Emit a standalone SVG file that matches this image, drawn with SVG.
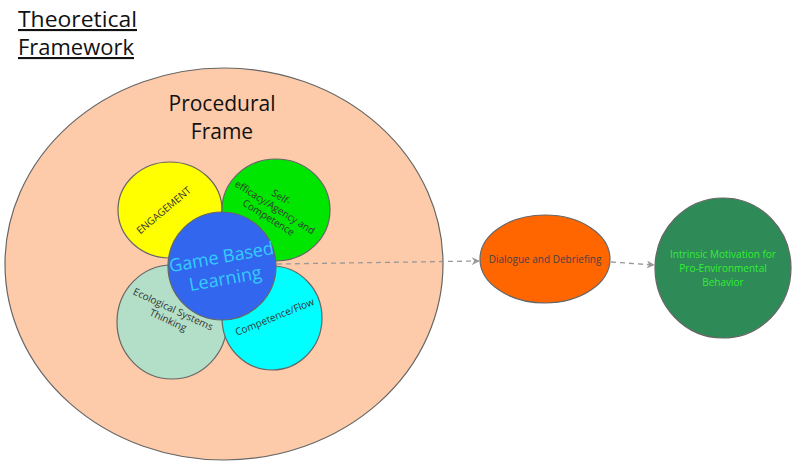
<svg xmlns="http://www.w3.org/2000/svg" width="800" height="469" viewBox="0 0 800 469">
<defs>
<style>
text{font-family:"Open Sans","Liberation Sans",sans-serif;}
.node{stroke:#666;stroke-width:1.2;}
.lbl{font-size:10px;fill:#333;text-anchor:middle;}
.conn{stroke:#999;stroke-width:1.3;stroke-dasharray:5,4;fill:none;}
</style>
<marker id="arr" viewBox="0 0 10 10" refX="9" refY="5" markerWidth="8" markerHeight="8" orient="auto" markerUnits="userSpaceOnUse">
<path d="M0,0 L10,5 L0,10 L3,5 z" fill="#999"/>
</marker>
</defs>
<rect width="800" height="469" fill="#fff"/>
<g id="title">
<text x="18" y="27" font-size="21" fill="#111" textLength="119" lengthAdjust="spacingAndGlyphs" text-decoration="underline">Theoretical</text>
<text x="18" y="55" font-size="21" fill="#111" textLength="116" lengthAdjust="spacingAndGlyphs" text-decoration="underline">Framework</text>
</g>
<g id="procedural-frame">
<ellipse cx="224" cy="264" rx="219" ry="196" fill="#fdcba9" class="node"/>
<text x="222" y="111" font-size="21" fill="#111" text-anchor="middle">Procedural</text>
<text x="222" y="139" font-size="21" fill="#111" text-anchor="middle">Frame</text>
</g>
<g id="engagement">
<ellipse cx="170" cy="210" rx="52" ry="48" fill="#ffff00" class="node"/>
<text class="lbl" transform="translate(166,213) rotate(-40)">ENGAGEMENT</text>
</g>
<g id="self-efficacy">
<ellipse cx="276" cy="210" rx="54" ry="51" fill="#00e600" class="node"/>
<text class="lbl" transform="translate(272,212) rotate(32)"><tspan x="0" y="-14">Self-</tspan><tspan x="0" y="-2">efficacy/Agency and</tspan><tspan x="0" y="10">Competence</tspan></text>
</g>
<g id="ecological">
<ellipse cx="172" cy="322" rx="55" ry="57" fill="#b3dfc8" class="node"/>
<text class="lbl" transform="translate(170,316) rotate(25)"><tspan x="0" y="-4">Ecological Systems</tspan><tspan x="0" y="8">Thinking</tspan></text>
</g>
<g id="competence-flow">
<ellipse cx="272" cy="318" rx="50" ry="52" fill="#00ffff" class="node"/>
<text class="lbl" transform="translate(276,320) rotate(-22)">Competence/Flow</text>
</g>
<g id="game-based-learning">
<circle cx="222" cy="266" r="54" fill="#3366ee" class="node"/>
<text transform="translate(223,266) rotate(-10)" font-size="18" fill="#33ccff" text-anchor="middle"><tspan x="0" y="-3">Game Based</tspan><tspan x="0" y="19">Learning</tspan></text>
</g>
<g id="connectors">
<path class="conn" d="M277,264 L479,261" marker-end="url(#arr)"/>
<path class="conn" d="M611,262 L654,265" marker-end="url(#arr)"/>
</g>
<g id="dialogue">
<ellipse cx="545" cy="259" rx="65" ry="44" fill="#ff6600" class="node"/>
<text x="545" y="263" font-size="10" fill="#444" text-anchor="middle">Dialogue and Debriefing</text>
</g>
<g id="intrinsic">
<ellipse cx="723" cy="268" rx="68" ry="70" fill="#2e8b57" class="node"/>
<text font-size="10" fill="#33ee33" text-anchor="middle"><tspan x="723" y="258">Intrinsic Motivation for</tspan><tspan x="723" y="272">Pro-Environmental</tspan><tspan x="723" y="286">Behavior</tspan></text>
</g>
</svg>
